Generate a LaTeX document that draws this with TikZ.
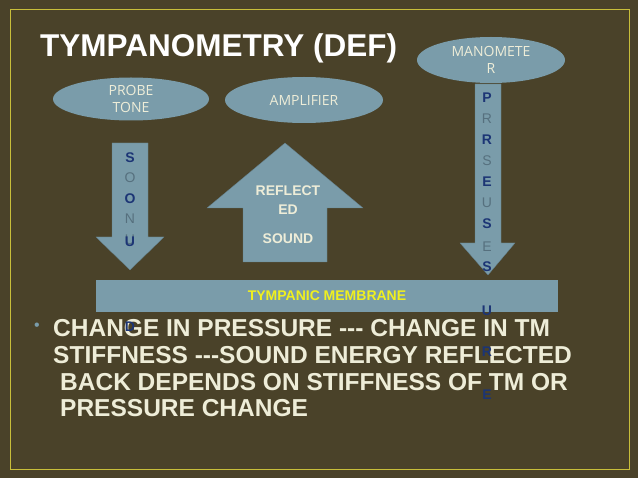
\documentclass[tikz,border=0pt]{standalone}
\usepackage{fontspec}
\setmainfont{Liberation Sans}
\newfontfamily\lblfont{Open Sans}
\usetikzlibrary{shapes.geometric}
\definecolor{bg}{HTML}{4A4229}
\definecolor{shp}{HTML}{7A9CAA}
\definecolor{dblue}{HTML}{1C3575}
\definecolor{gtxt}{HTML}{56707E}
\definecolor{cream}{HTML}{EEEDD8}
\definecolor{frame}{HTML}{C8BE3A}
\tikzset{
 oval/.style={ellipse,fill=shp,draw=none,text=cream,font=\lblfont\fontsize{14}{16}\selectfont,align=center,inner sep=0pt},
 arrowshape/.style={fill=shp,draw=shp!80!black,line width=0.3pt},
 bl/.style={text=dblue,font=\bfseries\fontsize{14}{15}\selectfont,inner sep=0pt},
 gl/.style={text=gtxt,font=\fontsize{14}{15}\selectfont,inner sep=0pt},
 body/.style={text=cream,font=\bfseries\fontsize{24.5}{27}\selectfont,anchor=base west,inner sep=0pt}
}
\begin{document}
\begin{tikzpicture}[x=1pt,y=-1pt]
\fill[bg] (0,0) rectangle (638,478);
\useasboundingbox (0,0) rectangle (638,478);
\draw[frame,line width=0.8pt] (10,9) rectangle (629,469);
\node[anchor=base west,inner sep=0pt,text=white,font=\bfseries\fontsize{31.5}{34}\selectfont] (title) at (40,57) {TYMPANOMETRY (DEF)};
\node[oval,minimum width=156pt,minimum height=43pt] (probe) at (131,99) {PROBE\\[1pt]TONE};
\node[oval,minimum width=158pt,minimum height=46pt] (amp) at (304,100) {AMPLIFIER};
\node[oval,minimum width=148pt,minimum height=46pt] (mano) at (491,60) {MANOMETE\\[1pt]R};
% left down arrow
\draw[arrowshape] (112,143) -- (148,143) -- (148,237) -- (164,237) -- (130,270) -- (96,237) -- (112,237) -- cycle;
% up arrow
\draw[arrowshape] (285,143) -- (363,208) -- (327,208) -- (327,262) -- (243,262) -- (243,208) -- (207,208) -- cycle;
\node[text=cream,font=\bfseries\fontsize{14}{16}\selectfont,align=center] (refl) at (288,215) {REFLECT\\[3pt]ED\\[3pt]\\[-6pt]SOUND};
% right down arrow
\draw[arrowshape] (475,84) -- (501,84) -- (501,243) -- (515,243) -- (488,275) -- (460,243) -- (475,243) -- cycle;
% TM
\node[fill=shp,minimum width=462pt,minimum height=32pt,inner sep=0pt,text={rgb,255:red,240;green,240;blue,30},font=\bfseries\fontsize{14}{15}\selectfont] (tm) at (327,296) {TYMPANIC MEMBRANE};
% bullet text
\node[text=shp,font=\fontsize{16}{16}\selectfont,inner sep=0pt] (bul) at (37,327) {•};
\node[body] (l1) at (53,337) {CHANGE IN PRESSURE {-}{-}{-} CHANGE IN TM};
\node[body] (l2) at (53,364) {STIFFNESS {-}{-}{-}SOUND ENERGY REFLECTED};
\node[body] (l3) at (60,391) {BACK DEPENDS ON STIFFNESS OF TM OR};
\node[body] (l4) at (60,417) {PRESSURE CHANGE};
% left letters
\node[bl] (s1) at (130,158) {S};
\node[gl] (s2) at (130,178) {O};
\node[bl] (s3) at (130,199) {O};
\node[gl] (s4) at (130,219) {N};
\node[gl] (s5) at (130,240) {U};
\node[bl] (s6) at (130,242) {U};
\node[bl] (s7) at (130,327) {D};
% right letters
\node[bl] (p1) at (487,98) {P};
\node[gl] (p2) at (487,119) {R};
\node[bl] (p3) at (487,140) {R};
\node[gl] (p4) at (487,161) {S};
\node[bl] (p5) at (487,182) {E};
\node[gl] (p6) at (487,203) {U};
\node[bl] (p7) at (487,224) {S};
\node[gl] (p8) at (487,247) {E};
\node[bl] (p9) at (487,267) {S};
\node[bl] (p10) at (487,311) {U};
\node[bl] (p11) at (487,352) {R};
\node[bl] (p12) at (487,395) {E};
\end{tikzpicture}
\end{document}
